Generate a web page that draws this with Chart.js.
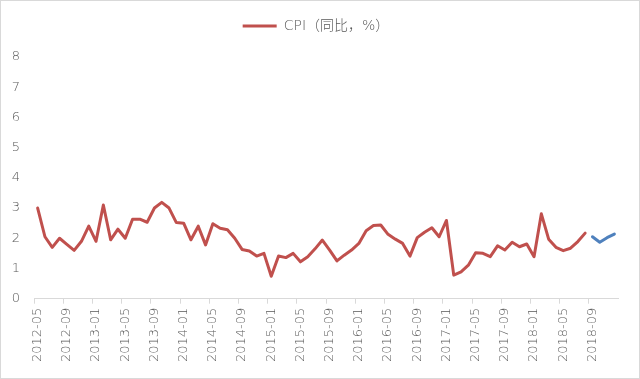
<!DOCTYPE html>
<html>
<head>
<meta charset="utf-8">
<script src="https://cdn.jsdelivr.net/npm/chart.js@4"></script>
<style>
html,body{margin:0;padding:0;background:#fff;}
#wrap{position:relative;width:640px;height:379px;}
</style>
</head>
<body>
<div id="wrap"><canvas id="c" width="640" height="379"></canvas></div>
<script>
const months = [
"2012-05","2012-06","2012-07","2012-08","2012-09","2012-10","2012-11","2012-12",
"2013-01","2013-02","2013-03","2013-04","2013-05","2013-06","2013-07","2013-08","2013-09","2013-10","2013-11","2013-12",
"2014-01","2014-02","2014-03","2014-04","2014-05","2014-06","2014-07","2014-08","2014-09","2014-10","2014-11","2014-12",
"2015-01","2015-02","2015-03","2015-04","2015-05","2015-06","2015-07","2015-08","2015-09","2015-10","2015-11","2015-12",
"2016-01","2016-02","2016-03","2016-04","2016-05","2016-06","2016-07","2016-08","2016-09","2016-10","2016-11","2016-12",
"2017-01","2017-02","2017-03","2017-04","2017-05","2017-06","2017-07","2017-08","2017-09","2017-10","2017-11","2017-12",
"2018-01","2018-02","2018-03","2018-04","2018-05","2018-06","2018-07","2018-08","2018-09","2018-10","2018-11","2018-12"
];
const cpiActual = [
3.0,2.05,1.7,2.0,1.8,1.6,1.9,2.4,
1.9,3.1,1.95,2.3,2.0,2.63,2.63,2.53,3.0,3.19,3.0,2.52,
2.5,1.95,2.4,1.78,2.48,2.33,2.28,2.0,1.63,1.58,1.41,1.5,
0.74,1.41,1.36,1.5,1.22,1.39,1.65,1.94,1.61,1.25,1.44,1.61,
1.83,2.25,2.42,2.44,2.13,1.97,1.83,1.41,2.02,2.2,2.35,2.05,
2.59,0.78,0.89,1.11,1.52,1.5,1.39,1.75,1.61,1.87,1.72,1.81,
1.39,2.81,1.97,1.7,1.59,1.67,1.89,2.17,null,null,null,null
];
const cpiForecast = [
null,null,null,null,null,null,null,null,
null,null,null,null,null,null,null,null,null,null,null,null,
null,null,null,null,null,null,null,null,null,null,null,null,
null,null,null,null,null,null,null,null,null,null,null,null,
null,null,null,null,null,null,null,null,null,null,null,null,
null,null,null,null,null,null,null,null,null,null,null,null,
null,null,null,null,null,null,null,null,2.05,1.87,2.02,2.14
];
const yTicks = [0,1,2,3,4,5,6,7,8];
const legendText = "CPI（同比，%）";
const RED = "#C0504D", BLUE = "#4F81BD", GREY = "#595959", AXIS = "#D9D9D9";
const FONT = "'DejaVu Sans', 'Noto Sans CJK SC', sans-serif";

const framePlugin = {
  id: 'frame',
  afterDraw(chart) {
    const c = chart.ctx;
    c.save();
    c.strokeStyle = AXIS; c.lineWidth = 1;
    c.strokeRect(0.5, 0.5, chart.width - 1, chart.height - 1);
    c.restore();
  }
};
const legendGap = {
  id: 'legendGap',
  beforeLayout(chart) {
    const lg = chart.legend;
    if (lg && !lg._gapPatched) {
      const f = lg.fit.bind(lg);
      lg.fit = function () { f(); this.height += 14; };
      const d = lg.draw.bind(lg);
      lg.draw = function () { const c = this.ctx; c.save(); c.translate(3, 0); d(); c.restore(); };
      lg._gapPatched = true;
    }
  }
};

const chart = new Chart(document.getElementById('c'), {
  type: 'line',
  data: {
    labels: months,
    datasets: [
      {label: legendText, data: cpiActual, borderColor: RED, backgroundColor: RED, borderWidth: 3,
       pointRadius: 0, tension: 0, borderJoinStyle: 'round', borderCapStyle: 'round', spanGaps: false},
      {label: 'forecast', data: cpiForecast, borderColor: BLUE, backgroundColor: BLUE, borderWidth: 3,
       pointRadius: 0, tension: 0, borderJoinStyle: 'round', borderCapStyle: 'round', spanGaps: false}
    ]
  },
  options: {
    responsive: false,
    animation: false,
    layout: {padding: {left: 8, right: 22, top: 9, bottom: 13}},
    plugins: {
      tooltip: {enabled: false},
      legend: {
        position: 'top',
        labels: {
          color: GREY, font: {family: FONT, size: 14, weight: 200}, boxWidth: 34, boxHeight: 3, padding: 10,
          generateLabels: () => [{text: legendText, fillStyle: RED, strokeStyle: RED, lineWidth: 0, datasetIndex: 0, fontColor: GREY}]
        }
      }
    },
    scales: {
      x: {
        offset: true,
        grid: {
          offset: true, drawOnChartArea: false, drawTicks: true, tickLength: 5,
          color: ctx => (ctx.index % 4 === 0 ? AXIS : 'rgba(0,0,0,0)')
        },
        border: {display: true, color: AXIS, width: 1},
        ticks: {
          autoSkip: false, minRotation: 90, maxRotation: 90, padding: 4,
          color: GREY, font: {family: FONT, size: 13, weight: 200},
          callback: function(v, i) { return i % 4 === 0 ? months[i] : ''; }
        }
      },
      y: {
        min: 0, max: 8,
        afterBuildTicks: s => { s.ticks = yTicks.map(v => ({value: v})); },
        grid: {display: false, drawTicks: false},
        border: {display: false},
        ticks: {color: GREY, font: {family: FONT, size: 13, weight: 200}, padding: 14},
        afterFit: s => { s.width = 26; }
      }
    }
  },
  plugins: [framePlugin, legendGap]
});
</script>
</body>
</html>
